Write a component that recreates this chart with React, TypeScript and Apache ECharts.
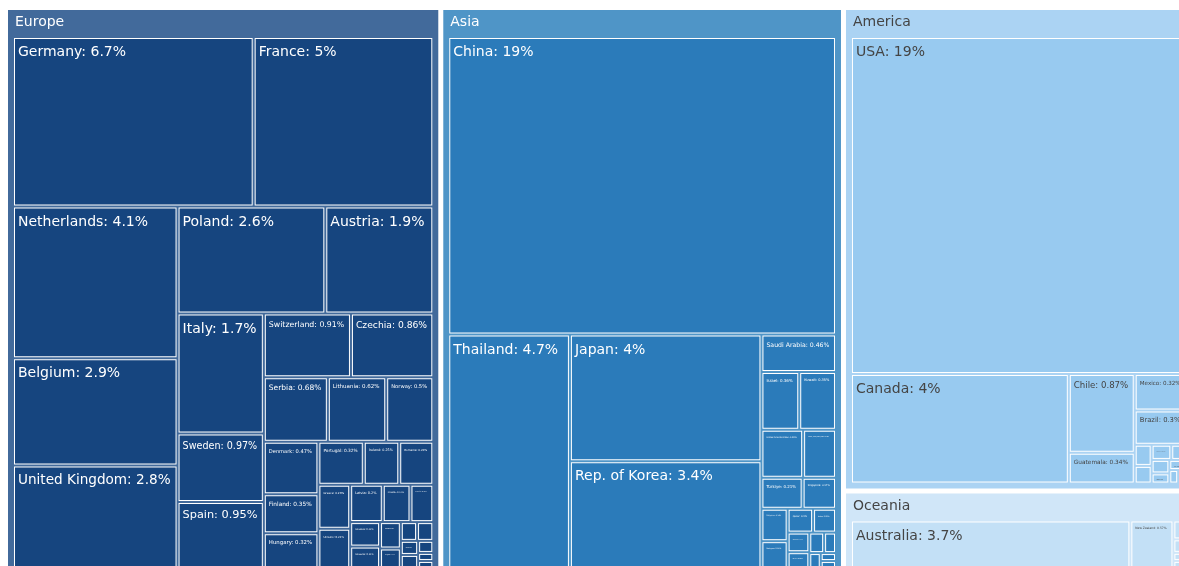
import React, { useEffect, useRef } from 'react';
import * as echarts from 'echarts';

const continents = ['Europe', 'Asia', 'America', 'Oceania'];

const europeNames = ['Germany', 'France', 'Netherlands', 'Belgium', 'United Kingdom', 'Poland', 'Austria', 'Italy', 'Sweden', 'Spain', 'Switzerland', 'Czechia', 'Serbia', 'Lithuania', 'Norway', 'Denmark', 'Finland', 'Portugal', 'Hungary', 'Ireland', 'Romania', 'Greece', 'Ukraine', 'Latvia', 'Croatia', 'Estonia', 'Slovakia', 'Slovenia', 'Luxembourg', 'Bulgaria', 'Iceland', 'Bosnia Herzegovina', 'North Macedonia', 'Cyprus', 'Malta', 'Albania', 'Montenegro'];
const europeValues = [6.7, 5, 4.1, 2.9, 2.8, 2.6, 1.9, 1.7, 0.97, 0.95, 0.91, 0.86, 0.68, 0.62, 0.5, 0.47, 0.35, 0.32, 0.32, 0.25, 0.24, 0.23, 0.21, 0.2, 0.17, 0.14, 0.12, 0.11, 0.09, 0.07, 0.05, 0.05, 0.04, 0.04, 0.03, 0.02, 0.02];

const asiaNames = ['China', 'Thailand', 'Japan', 'Rep. of Korea', 'Saudi Arabia', 'Israel', 'Kuwait', 'United Arab Emirates', 'China, Hong Kong SAR', 'Türkiye', 'Singapore', 'Philippines', 'Malaysia', 'Qatar', 'India', 'Viet Nam', 'Oman', 'Indonesia', 'Jordan', 'Kazakhstan', 'Bahrain', 'Georgia'];
const asiaValues = [19, 4.7, 4, 3.4, 0.46, 0.36, 0.35, 0.33, 0.26, 0.21, 0.17, 0.14, 0.12, 0.1, 0.09, 0.07, 0.06, 0.05, 0.04, 0.03, 0.02, 0.02];

const americaNames = ['USA', 'Canada', 'Chile', 'Guatemala', 'Mexico', 'Brazil', 'Costa Rica', 'Panama', 'Dominican Rep.', 'Colombia', 'Uruguay', 'Peru', 'Ecuador', 'Argentina', 'El Salvador'];
const americaValues = [19, 4, 0.87, 0.34, 0.32, 0.3, 0.06, 0.05, 0.05, 0.04, 0.04, 0.03, 0.03, 0.02, 0.02];

const oceaniaNames = ['Australia', 'New Zealand', 'New Caledonia', 'Fiji', 'French Polynesia', 'Papua New Guinea', 'Samoa'];
const oceaniaValues = [3.7, 0.57, 0.07, 0.05, 0.03, 0.02, 0.01];

const groupNames = [europeNames, asiaNames, americaNames, oceaniaNames];
const groupValues = [europeValues, asiaValues, americaValues, oceaniaValues];

const headerColors = ['#426a9b', '#4f95c7', '#abd3f3', '#d0e6f8'];
const tileColors = ['#16457f', '#2b7bba', '#98caf0', '#c3e0f6'];
const textColors = ['#ffffff', '#ffffff', '#444444', '#444444'];

const FONT = "'DejaVu Sans', Verdana, sans-serif";
const MAX_FONT = 14;

let measureCtx: CanvasRenderingContext2D | null = null;
function widthPerPx(text: string): number {
  if (!measureCtx) {
    const c = document.createElement('canvas');
    measureCtx = c.getContext('2d');
  }
  if (!measureCtx) return text.length * 0.6;
  measureCtx.font = "100px 'DejaVu Sans'";
  return measureCtx.measureText(text).width / 100;
}

function labelText(name: string, v: number) {
  return `${name}: ${v}%`;
}

function buildData(fontSizes: Record<string, number>) {
  return continents.map((c, ci) => ({
    name: c,
    itemStyle: { color: tileColors[ci], borderColor: headerColors[ci] },
    upperLabel: { color: textColors[ci] },
    children: groupNames[ci].map((n, i) => {
      const key = c + '|' + n;
      const fs = fontSizes[key] ?? MAX_FONT;
      return {
        name: n,
        value: groupValues[ci][i],
        label: { color: textColors[ci], fontSize: fs, lineHeight: fs * 1.15, show: fs >= 0.8 },
      };
    }),
  }));
}

export default function App() {
  const ref = useRef<HTMLDivElement>(null);
  useEffect(() => {
    if (!ref.current) return;
    const chart = echarts.init(ref.current, null, { renderer: 'svg' });
    const makeOption = (fs: Record<string, number>) => ({
      animation: false,
      series: [
        {
          type: 'treemap',
          left: 0,
          top: 2,
          width: 1184,
          height: 564,
          roam: false,
          nodeClick: false,
          breadcrumb: { show: false },
          visibleMin: 0,
          childrenVisibleMin: 0,
          sort: 'desc',
          squareRatio: 1,
          label: {
            show: true,
            position: 'insideTopLeft',
            distance: 0,
            padding: [4, 3, 0, 3],
            fontFamily: FONT,
            formatter: (p: any) => labelText(p.name, p.value),
            overflow: 'none',
          },
          upperLabel: {
            show: true,
            height: 28,
            fontFamily: FONT,
            fontSize: 14,
            position: [1, '40%'],
            verticalAlign: 'middle',
            formatter: (p: any) => p.name,
          },
          itemStyle: { borderColor: '#fff' },
          levels: [
            { itemStyle: { borderWidth: 0, gapWidth: 5, borderColor: '#ffffff' }, upperLabel: { show: false } },
            { itemStyle: { borderWidth: 6, gapWidth: 2 }, upperLabel: { show: true } },
            { itemStyle: { borderWidth: 1, borderColor: '#ffffff', gapWidth: 0 } },
          ],
          data: buildData(fs),
        },
      ],
    });
    chart.setOption(makeOption({}));
    const fs: Record<string, number> = {};
    try {
      const seriesModel = (chart as any).getModel().getSeriesByIndex(0);
      const tree = seriesModel.getData().tree;
      tree.root.eachNode((node: any) => {
        if (node.depth !== 2) return;
        const l = node.getLayout();
        if (!l) return;
        const parent = node.parentNode ? node.parentNode.name : '';
        const txt = labelText(node.name, node.getValue());
        const availW = l.width - 2 - 6 - 1;
        const availH = l.height - 2 - 4 - 1;
        let size = Math.min(MAX_FONT, availW / widthPerPx(txt), availH / 1.15);
        if (!(size > 0)) size = 0;
        fs[parent + '|' + node.name] = Math.floor(size * 10) / 10;
      });
      chart.setOption(makeOption(fs));
    } catch (e) {
      // keep first render
    }
    return () => chart.dispose();
  }, []);
  return (
    <div
      ref={ref}
      style={{ position: 'fixed', left: 8, top: 8, width: 1200, height: 580 }}
    />
  );
}
